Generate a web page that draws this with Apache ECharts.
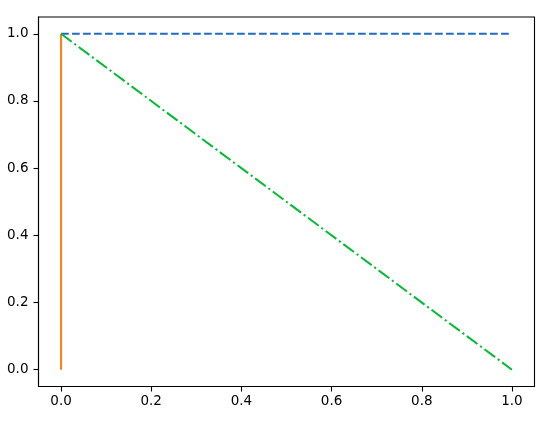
<!DOCTYPE html>
<html>
<head>
<meta charset="utf-8">
<script src="https://cdn.jsdelivr.net/npm/echarts@6/dist/echarts.min.js"></script>
<style>html,body{margin:0;padding:0;background:#fff;}#c{width:553px;height:425px;}</style>
</head>
<body>
<div id="c"></div>
<script>
var tickValues = [0, 0.2, 0.4, 0.6, 0.8, 1.0];
var blueX = [0, 1], blueY = [1, 1];
var orangeX = [0, 0], orangeY = [0, 1];
var greenX = [0, 1], greenY = [1, 0];

function pairs(xs, ys) { return xs.map(function (x, i) { return [x, ys[i]]; }); }

var chart = echarts.init(document.getElementById('c'), null, {renderer: 'canvas'});
var font = {fontFamily: 'DejaVu Sans', fontSize: 13.5, color: '#000'};
function axis(isX) {
  return {
    type: 'value', min: -0.05, max: 1.05,
    splitLine: {show: false},
    axisLine: {show: true, onZero: false, lineStyle: {color: '#000', width: 1.1}},
    axisTick: {show: true, inside: false, length: 5, lineStyle: {color: '#000', width: 1.1}, customValues: tickValues},
    axisLabel: Object.assign({margin: isX ? 8 : 10, customValues: tickValues, formatter: function (v) { return v.toFixed(1); }}, font)
  };
}
chart.setOption({
  animation: false,
  grid: {left: 38.5, right: 18.5, top: 17, bottom: 38.5, show: true, borderColor: '#000', borderWidth: 1.1, backgroundColor: '#fff'},
  xAxis: axis(true),
  yAxis: axis(false),
  series: [
    {type: 'line', data: pairs(blueX, blueY), showSymbol: false, lineStyle: {color: '#1f6cc0', width: 2, type: [7.7, 3.3]}},
    {type: 'line', data: pairs(orangeX, orangeY), showSymbol: false, lineStyle: {color: '#ff7f0e', width: 2, type: 'solid'}},
    {type: 'line', data: pairs(greenX, greenY), showSymbol: false, lineStyle: {color: '#00bb33', width: 2, type: [13.3, 3.3, 2.1, 3.3]}}
  ]
});
</script>
</body>
</html>
